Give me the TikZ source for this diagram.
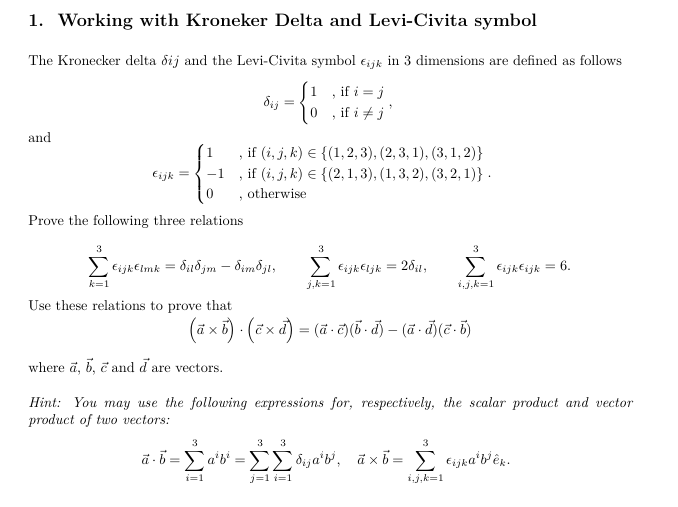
\documentclass[tikz,border=0pt]{standalone}
\usepackage{amsmath,amssymb}
\begin{document}
\begin{tikzpicture}[x=0.7pt,y=-0.7pt,txt/.style={anchor=west,inner sep=0pt},eq/.style={inner sep=0pt}]
\useasboundingbox (0,0) rectangle (678,506);
\node[txt] (title) at (28,22) {\fontsize{12.6}{15}\selectfont\bfseries 1.\ \ Working with Kroneker Delta and Levi-Civita symbol};
\node[txt] (intro) at (28,62) {The Kronecker delta $\delta{ij}$ and the Levi-Civita symbol $\epsilon_{ijk}$ in 3 dimensions are defined as follows};
\node[eq] (delta) at (328,103) {$\delta_{ij}=\begin{cases}1 & \text{, if } i=j\\ 0 & \text{, if } i\neq j\end{cases},$};
\node[txt] (and) at (28,138) {and};
\node[eq] (eps) at (322,174) {$\epsilon_{ijk}=\begin{cases}1 & \text{, if } (i,j,k)\in\{(1,2,3),(2,3,1),(3,1,2)\}\\ -1 & \text{, if } (i,j,k)\in\{(2,1,3),(1,3,2),(3,2,1)\}\\ 0 & \text{, otherwise}\end{cases}.$};
\node[txt] (prove) at (28,222) {Prove the following three relations};
\node[eq] (sums) at (330,268) {$\displaystyle\sum_{k=1}^{3}\epsilon_{ijk}\epsilon_{lmk}=\delta_{il}\delta_{jm}-\delta_{im}\delta_{jl},\qquad \sum_{j,k=1}^{3}\epsilon_{ijk}\epsilon_{ljk}=2\delta_{il},\qquad \sum_{i,j,k=1}^{3}\epsilon_{ijk}\epsilon_{ijk}=6.$};
\node[txt] (use) at (28,307) {Use these relations to prove that};
\node[eq] (ident) at (330,331) {$\left(\vec a\times\vec b\right)\cdot\left(\vec c\times\vec d\right)=(\vec a\cdot\vec c)(\vec b\cdot\vec d)-(\vec a\cdot\vec d)(\vec c\cdot\vec b)$};
\node[txt] (where) at (28,367) {where $\vec a$, $\vec b$, $\vec c$ and $\vec d$ are vectors.};
\node[txt,anchor=north west,text width=422.8pt,align=justify] (hint) at (28,397) {\itshape Hint: You may use the following expressions for, respectively, the scalar product and vector\linebreak product of two vectors:};
\node[eq] (final) at (326,462) {$\displaystyle\vec a\cdot\vec b=\sum_{i=1}^{3}a^ib^i=\sum_{j=1}^{3}\sum_{i=1}^{3}\delta_{ij}a^ib^j,\quad \vec a\times\vec b=\sum_{i,j,k=1}^{3}\epsilon_{ijk}a^ib^j\hat e_k.$};
\end{tikzpicture}
\end{document}
